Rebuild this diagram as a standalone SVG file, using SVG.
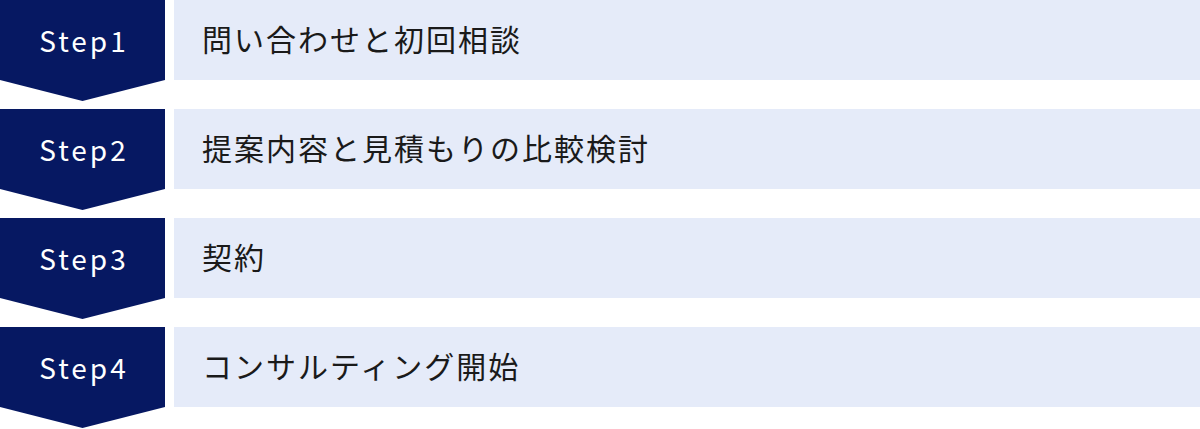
<svg xmlns="http://www.w3.org/2000/svg" width="1200" height="429" viewBox="0 0 1200 429">
<style>
.badge{fill:#061862}
.bar{fill:#E5EBF9}
.step{font-family:"Noto Sans CJK JP","Noto Sans",sans-serif;font-size:28px;letter-spacing:3px;fill:#FFFFFF;text-anchor:middle}
.label{font-family:"Noto Sans CJK JP","Noto Sans",sans-serif;font-size:30px;letter-spacing:2px;fill:#1A1A1A}
</style>
<rect width="1200" height="429" fill="#FFFFFF"/>
<g id="step1">
<polygon class="badge" points="0,0 165,0 165,80 82.5,101 0,80"/>
<rect class="bar" x="174" y="0" width="1026" height="80"/>
<text class="step" x="84" y="52">Step1</text>
<text class="label" x="202" y="51">問い合わせと初回相談</text>
</g>
<g id="step2">
<polygon class="badge" points="0,109 165,109 165,189 82.5,210 0,189"/>
<rect class="bar" x="174" y="109" width="1026" height="80"/>
<text class="step" x="84" y="161">Step2</text>
<text class="label" x="202" y="160">提案内容と見積もりの比較検討</text>
</g>
<g id="step3">
<polygon class="badge" points="0,218 165,218 165,298 82.5,319 0,298"/>
<rect class="bar" x="174" y="218" width="1026" height="80"/>
<text class="step" x="84" y="270">Step3</text>
<text class="label" x="202" y="269">契約</text>
</g>
<g id="step4">
<polygon class="badge" points="0,327 165,327 165,407 82.5,428 0,407"/>
<rect class="bar" x="174" y="327" width="1026" height="80"/>
<text class="step" x="84" y="379">Step4</text>
<text class="label" x="202" y="378">コンサルティング開始</text>
</g>
<g id="connectors"/>
</svg>
